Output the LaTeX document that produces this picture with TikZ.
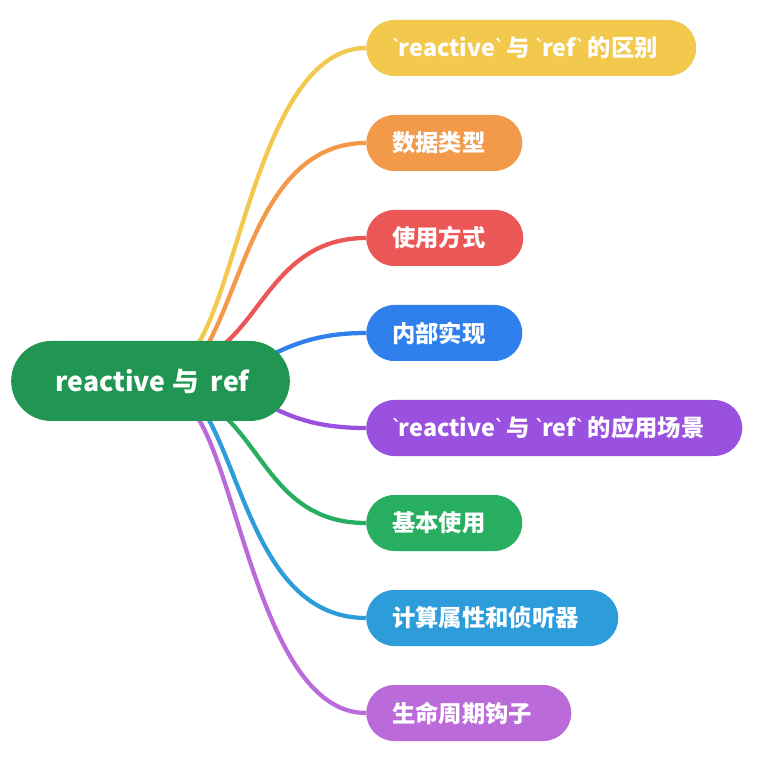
\documentclass[tikz,border=0pt]{standalone}
\usepackage{fontspec}
\setmainfont{Noto Sans CJK SC}[Ligatures=TeXOff]
\newfontfamily\latinfont{Noto Sans}[Ligatures=TeXOff]
\usepackage{tikz}
\usetikzlibrary{positioning,backgrounds}
\definecolor{rootgreen}{HTML}{219653}
\definecolor{cyellow}{HTML}{F2C94C}
\definecolor{corange}{HTML}{F2994A}
\definecolor{cred}{HTML}{EB5757}
\definecolor{cblue}{HTML}{2F80ED}
\definecolor{cpurple}{HTML}{9B51E0}
\definecolor{cgreen}{HTML}{27AE60}
\definecolor{csky}{HTML}{2D9CDB}
\definecolor{cviolet}{HTML}{BB6BD9}
\newcommand{\bq}{{\latinfont`}}
\newcommand{\leaf}[2]{\makebox[#1][l]{#2}}

\begin{document}
\begin{tikzpicture}[
    x=0.75pt, y=-0.75pt,
    topic/.style={fill=rootgreen, text=white, rounded corners=30pt, minimum height=60pt, minimum width=209pt, font=\bfseries\fontsize{20}{22}\selectfont},
    sub/.style={anchor=west, text=white, rounded corners=21pt, minimum height=42pt, inner xsep=19.5pt, font=\bfseries\fontsize{17.5}{20}\selectfont},
    link/.style={line width=3.2pt},
]
\useasboundingbox (0,0) rectangle (774,762);

\node[topic] (root) at (150.5,381) {\hspace{3pt}reactive\hspace{5pt}与\hspace{9pt}ref};

\node[sub, fill=cyellow] (diff) at (366,48) {\leaf{208.5pt}{\bq reactive\bq\hspace{4pt}与 \bq ref\bq{} 的区别}};
\node[sub, fill=corange] (types) at (366,143) {\leaf{78pt}{数据类型}};
\node[sub, fill=cred] (usage) at (366,238) {\leaf{78.75pt}{使用方式}};
\node[sub, fill=cblue] (impl) at (366,333) {\leaf{78pt}{内部实现}};
\node[sub, fill=cpurple] (scene) at (366,428) {\leaf{243pt}{\bq reactive\bq\hspace{4pt}与 \bq ref\bq{} 的应用场景}};
\node[sub, fill=cgreen] (basic) at (366,523) {\leaf{78pt}{基本使用}};
\node[sub, fill=csky] (watch) at (366,618) {\leaf{150pt}{计算属性和侦听器}};
\node[sub, fill=cviolet] (hooks) at (366,713) {\leaf{114.75pt}{生命周期钩子}};

% branches
\begin{scope}[on background layer]
\fill[white] (0,0) rectangle (774,762);
\draw[link, cyellow] ([shift={(48,-38)}]root.center) .. controls +(42,-68) and +(-100,0) .. (diff.west);
\draw[link, corange] ([shift={(58,-38)}]root.center) .. controls +(37,-68) and +(-100,0) .. (types.west);
\draw[link, cred] ([shift={(75,-38)}]root.center) .. controls +(40,-35) and +(-80,0) .. (usage.west);
\draw[link, cblue] ([shift={(125,-28)}]root.center) .. controls +(25,-12) and +(-40,0) .. (impl.west);
\draw[link, cpurple] ([shift={(125,28)}]root.center) .. controls +(25,12) and +(-40,0) .. (scene.west);
\draw[link, cgreen] ([shift={(77,38)}]root.center) .. controls +(40,40) and +(-80,0) .. (basic.west);
\draw[link, csky] ([shift={(58,38)}]root.center) .. controls +(37,68) and +(-100,0) .. (watch.west);
\draw[link, cviolet] ([shift={(48,38)}]root.center) .. controls +(42,68) and +(-100,0) .. (hooks.west);
\end{scope}
\end{tikzpicture}
\end{document}
